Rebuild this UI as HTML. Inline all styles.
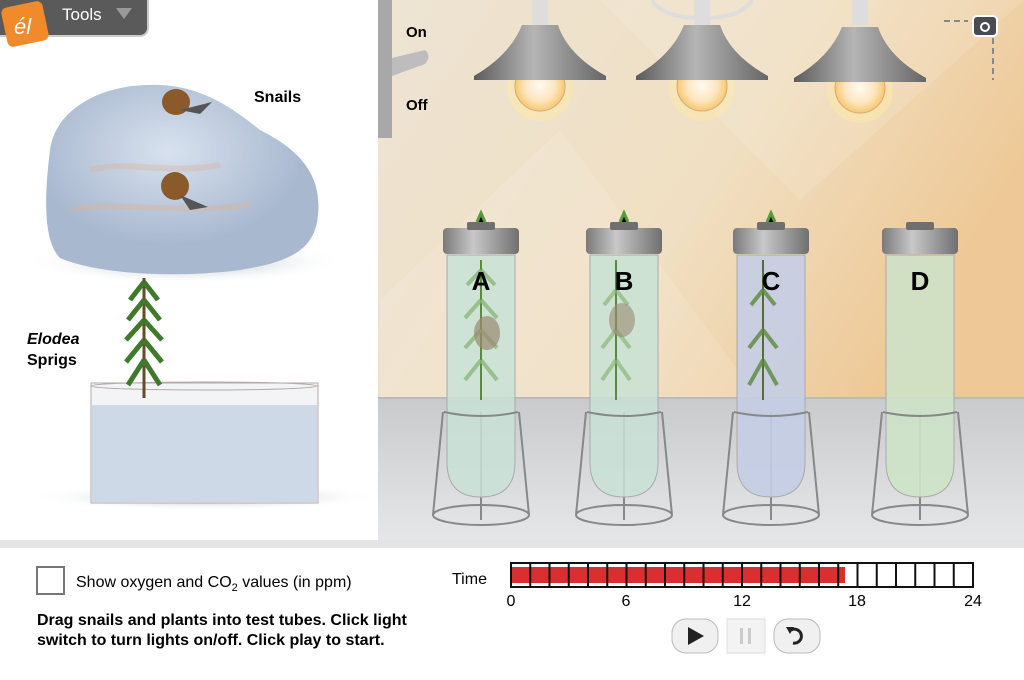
<!DOCTYPE html>
<html><head><meta charset="utf-8"><style>
body{margin:0;width:1024px;height:680px;overflow:hidden;background:#fff;font-family:"Liberation Sans",sans-serif}
svg{position:absolute;left:0;top:0}
</style></head><body>
<svg width="1024" height="680" viewBox="0 0 1024 680" font-family="Liberation Sans, sans-serif">
<defs>
<linearGradient id="wall" x1="0" y1="0" x2="1" y2="0.4"><stop offset="0" stop-color="#ede4d4"/><stop offset="0.6" stop-color="#f0dfc2"/><stop offset="1" stop-color="#eec997"/></linearGradient>
<linearGradient id="floor" x1="0" y1="0" x2="0" y2="1"><stop offset="0" stop-color="#c9cacb"/><stop offset="1" stop-color="#e6e7e8"/></linearGradient>
<linearGradient id="cap" x1="0" y1="0" x2="1" y2="0"><stop offset="0" stop-color="#7a7a7a"/><stop offset="0.4" stop-color="#c8c8c8"/><stop offset="1" stop-color="#6f6f6f"/></linearGradient>
<linearGradient id="shade" x1="0" y1="0" x2="1" y2="0"><stop offset="0" stop-color="#5c5c5c"/><stop offset="0.45" stop-color="#b5b5b5"/><stop offset="1" stop-color="#666"/></linearGradient>
<radialGradient id="bulb"><stop offset="0" stop-color="#fffaf0"/><stop offset="0.6" stop-color="#fde6c0"/><stop offset="1" stop-color="#f7c870"/></radialGradient>
<radialGradient id="rock" cx="0.45" cy="0.35"><stop offset="0" stop-color="#d8e2ef"/><stop offset="1" stop-color="#a8b8cf"/></radialGradient>
<radialGradient id="shadow"><stop offset="0" stop-color="#9aa3ad"/><stop offset="1" stop-color="#fff" stop-opacity="0"/></radialGradient>
</defs>
<rect x="0" y="0" width="378" height="540" fill="#fff"/>
<ellipse cx="185" cy="262" rx="160" ry="22" fill="url(#shadow)"/>
<path d="M50 150 C55 110 100 85 150 85 C200 83 235 110 260 130 C300 150 322 175 318 215 C315 250 290 262 240 270 C180 278 100 275 60 258 C42 240 45 190 50 150Z" fill="url(#rock)"/>
<path d="M90 170 C130 160 170 175 220 165 M70 210 C120 200 170 215 250 205" stroke="#d9b59a" stroke-width="6" fill="none" opacity="0.4"/>
<ellipse cx="176" cy="102" rx="14" ry="13" fill="#8a5a2b"/><path d="M180 110 L212 102 L200 114Z" fill="#555"/>
<ellipse cx="175" cy="186" rx="14" ry="14" fill="#8a5a2b"/><path d="M180 195 L208 207 L190 210Z" fill="#555"/>
<text x="254" y="102" font-size="16" font-weight="bold">Snails</text>
<ellipse cx="205" cy="497" rx="175" ry="14" fill="url(#shadow)"/>
<rect x="91" y="383" width="227" height="120" fill="#f2f4f6" stroke="#b6a8a8"/>
<rect x="92" y="405" width="225" height="97" fill="#cdd9e6"/>
<ellipse cx="204" cy="386" rx="113" ry="4" fill="none" stroke="#b6a8a8"/>
<path d="M144 278 L144 398" stroke="#6b4a2a" stroke-width="3"/>
<path d="M144 282 L130 300 M144 282 L158 300 M144 300 L128 320 M144 300 L160 320 M144 320 L126 340 M144 320 L162 340 M144 340 L126 362 M144 340 L162 362 M144 360 L128 385 M144 360 L160 385" stroke="#3f7a2a" stroke-width="5"/>
<text x="27" y="344" font-size="16" font-weight="bold" font-style="italic">Elodea</text>
<text x="27" y="365" font-size="16" font-weight="bold">Sprigs</text>
<rect x="-10" y="-10" width="158" height="46" rx="8" fill="#5a5a5a" stroke="#ccc" stroke-width="2"/>
<rect x="4" y="4" width="42" height="40" rx="6" fill="#f08a2a" transform="rotate(-12 25 24)"/>
<text x="14" y="34" font-size="22" fill="#fff" font-style="italic">él</text>
<text x="62" y="20" font-size="17" fill="#fff">Tools</text>
<path d="M116 8 L132 8 L124 19Z" fill="#999"/>
<rect x="378" y="0" width="646" height="400" fill="url(#wall)"/>
<path d="M600 0 L800 200 L1024 0Z M380 300 L560 130 L760 400 L380 400Z" fill="#fff" opacity="0.12"/>
<rect x="378" y="397" width="646" height="143" fill="url(#floor)"/>
<line x1="378" y1="398" x2="1024" y2="398" stroke="#a9aaab"/>
<rect x="378" y="0" width="14" height="138" fill="#a8a8a8"/>
<path d="M392 58 L425 50 Q432 56 425 64 L392 76Z" fill="#bdbdbd"/>
<text x="406" y="37" font-size="15" font-weight="bold">On</text>
<text x="406" y="110" font-size="15" font-weight="bold">Off</text>
<g transform="translate(540 0)"><rect x="-8" y="0" width="16" height="25" fill="#ddd"/><circle cx="0" cy="88" r="33" fill="#fde9a8" opacity="0.5"/><circle cx="0" cy="86" r="25" fill="url(#bulb)" stroke="#d8a870"/><path d="M-18 25 L18 25 Q28 55 66 76 L66 80 L-66 80 L-66 76 Q-30 55 -18 25Z" fill="url(#shade)"/></g>
<g transform="translate(702 0)"><rect x="-8" y="0" width="16" height="25" fill="#ddd"/><path d="M-50 0 Q-40 18 0 18 Q40 18 50 0" fill="none" stroke="#ddd" stroke-width="4"/><circle cx="0" cy="88" r="33" fill="#fde9a8" opacity="0.5"/><circle cx="0" cy="86" r="25" fill="url(#bulb)" stroke="#d8a870"/><path d="M-18 25 L18 25 Q28 55 66 76 L66 80 L-66 80 L-66 76 Q-30 55 -18 25Z" fill="url(#shade)"/></g>
<g transform="translate(860 0)"><rect x="-8" y="0" width="16" height="25" fill="#ddd"/><circle cx="0" cy="90" r="33" fill="#fde9a8" opacity="0.5"/><circle cx="0" cy="88" r="25" fill="url(#bulb)" stroke="#d8a870"/><path d="M-18 27 L18 27 Q28 57 66 78 L66 82 L-66 82 L-66 78 Q-30 57 -18 27Z" fill="url(#shade)"/></g>
<path d="M944 21 L968 21 M993 38 L993 80" stroke="#888" stroke-width="2" stroke-dasharray="6 4"/>
<rect x="973" y="16" width="24" height="20" rx="4" fill="#4a4a52" stroke="#fff" stroke-width="2"/><circle cx="985" cy="27" r="5" fill="#fff"/><circle cx="985" cy="27" r="3" fill="#4a4a52"/>
<g transform="translate(481 0)">
<ellipse cx="0" cy="515" rx="48" ry="10" fill="none" stroke="#888" stroke-width="2"/><path d="M-48 515 L-38 412 M48 515 L38 412 M0 412 L0 520" stroke="#888" stroke-width="2"/>
<path d="M-34 255 L-34 462 Q-34 497 0 497 Q34 497 34 462 L34 255Z" fill="#c8e2d6" fill-opacity="0.85" stroke="#aaa"/>
<path d="M0 260 L0 400" stroke="#5a8a3a" stroke-width="2"/><path d="M0 270 L-14 285 M0 270 L14 285 M0 300 L-16 318 M0 300 L16 318 M0 330 L-16 348 M0 330 L16 348 M0 360 L-16 380 M0 360 L16 380" stroke="#8ab87a" stroke-width="4" opacity="0.8"/>
<ellipse cx="6" cy="333" rx="13" ry="17" fill="#9a8a70" opacity="0.7"/>
<path d="M-37 412 Q0 420 37 412" fill="none" stroke="#888" stroke-width="2"/>
<rect x="-38" y="228" width="76" height="26" rx="4" fill="url(#cap)"/><rect x="-14" y="222" width="28" height="8" rx="2" fill="#6f6f6f"/><path d="M-4 222 L0 213 L4 222" stroke="#5a9a3a" stroke-width="3"/>
<text x="0" y="290" font-size="26" font-weight="bold" text-anchor="middle">A</text></g>
<g transform="translate(624 0)">
<ellipse cx="0" cy="515" rx="48" ry="10" fill="none" stroke="#888" stroke-width="2"/><path d="M-48 515 L-38 412 M48 515 L38 412 M0 412 L0 520" stroke="#888" stroke-width="2"/>
<path d="M-34 255 L-34 462 Q-34 497 0 497 Q34 497 34 462 L34 255Z" fill="#c8e2d6" fill-opacity="0.85" stroke="#aaa"/>
<path d="M-8 260 L-8 400" stroke="#5a8a3a" stroke-width="2"/><path d="M-8 290 L-20 305 M-8 290 L4 305 M-8 330 L-22 348 M-8 330 L6 348 M-8 360 L-22 380 M-8 360 L6 380" stroke="#8ab87a" stroke-width="4" opacity="0.7"/>
<ellipse cx="-2" cy="320" rx="13" ry="17" fill="#9a8a70" opacity="0.6"/>
<path d="M-37 412 Q0 420 37 412" fill="none" stroke="#888" stroke-width="2"/>
<rect x="-38" y="228" width="76" height="26" rx="4" fill="url(#cap)"/><rect x="-14" y="222" width="28" height="8" rx="2" fill="#6f6f6f"/><path d="M-4 222 L0 213 L4 222" stroke="#5a9a3a" stroke-width="3"/>
<text x="0" y="290" font-size="26" font-weight="bold" text-anchor="middle">B</text></g>
<g transform="translate(771 0)">
<ellipse cx="0" cy="515" rx="48" ry="10" fill="none" stroke="#888" stroke-width="2"/><path d="M-48 515 L-38 412 M48 515 L38 412 M0 412 L0 520" stroke="#888" stroke-width="2"/>
<path d="M-34 255 L-34 462 Q-34 497 0 497 Q34 497 34 462 L34 255Z" fill="#c4cde6" fill-opacity="0.9" stroke="#aaa"/>
<path d="M-8 260 L-8 400" stroke="#5a6a3a" stroke-width="2"/><path d="M-8 290 L-20 305 M-8 290 L4 305 M-8 330 L-22 348 M-8 330 L6 348 M-8 360 L-22 385 M-8 360 L6 385" stroke="#5a8a3a" stroke-width="4" opacity="0.8"/>
<path d="M-37 412 Q0 420 37 412" fill="none" stroke="#888" stroke-width="2"/>
<rect x="-38" y="228" width="76" height="26" rx="4" fill="url(#cap)"/><rect x="-14" y="222" width="28" height="8" rx="2" fill="#6f6f6f"/><path d="M-4 222 L0 213 L4 222" stroke="#5a9a3a" stroke-width="3"/>
<text x="0" y="290" font-size="26" font-weight="bold" text-anchor="middle">C</text></g>
<g transform="translate(920 0)">
<ellipse cx="0" cy="515" rx="48" ry="10" fill="none" stroke="#888" stroke-width="2"/><path d="M-48 515 L-38 412 M48 515 L38 412 M0 412 L0 520" stroke="#888" stroke-width="2"/>
<path d="M-34 255 L-34 462 Q-34 497 0 497 Q34 497 34 462 L34 255Z" fill="#cde2c8" fill-opacity="0.9" stroke="#aaa"/>
<path d="M-37 412 Q0 420 37 412" fill="none" stroke="#888" stroke-width="2"/>
<rect x="-38" y="228" width="76" height="26" rx="4" fill="url(#cap)"/><rect x="-14" y="222" width="28" height="8" rx="2" fill="#6f6f6f"/>
<text x="0" y="290" font-size="26" font-weight="bold" text-anchor="middle">D</text></g>
<rect x="0" y="540" width="1024" height="8" fill="#e4e4e4"/>
<rect x="37" y="567" width="27" height="27" fill="#fff" stroke="#777" stroke-width="2"/>
<text x="76" y="587" font-size="16">Show oxygen and CO<tspan font-size="11" dy="4">2</tspan><tspan dy="-4"> values (in ppm)</tspan></text>
<text x="37" y="625" font-size="16" font-weight="bold">Drag snails and plants into test tubes. Click light</text>
<text x="37" y="645" font-size="16" font-weight="bold">switch to turn lights on/off. Click play to start.</text>
<text x="452" y="584" font-size="16">Time</text>
<rect x="511" y="563" width="462" height="24" fill="#fff" stroke="#111" stroke-width="2"/>
<rect x="512" y="567" width="333" height="16" fill="#d83030"/>
<g stroke="#111" stroke-width="2">
<path d="M530.25 563v24M549.5 563v24M568.75 563v24M588 563v24M607.25 563v24M626.5 563v24M645.75 563v24M665 563v24M684.25 563v24M703.5 563v24M722.75 563v24M742 563v24M761.25 563v24M780.5 563v24M799.75 563v24M819 563v24M838.25 563v24M857.5 563v24M876.75 563v24M896 563v24M915.25 563v24M934.5 563v24M953.75 563v24"/>
</g>
<g font-size="16" text-anchor="middle"><text x="511" y="606">0</text><text x="626" y="606">6</text><text x="742" y="606">12</text><text x="857" y="606">18</text><text x="973" y="606">24</text></g>
<rect x="672" y="619" width="46" height="34" rx="14" fill="#f0f0f0" stroke="#bbb"/>
<path d="M688 627 L704 636 L688 645Z" fill="#222"/>
<rect x="727" y="619" width="38" height="34" fill="#f3f3f3" stroke="#ddd"/>
<rect x="740" y="628" width="3" height="16" fill="#ccc"/><rect x="748" y="628" width="3" height="16" fill="#ccc"/>
<rect x="774" y="619" width="46" height="34" rx="14" fill="#f0f0f0" stroke="#bbb"/>
<path d="M791 630 A7 7 0 1 1 793 643" fill="none" stroke="#222" stroke-width="3"/><path d="M786 627 L794 627 L790 634Z" fill="#222"/>
</svg>
</body></html>
